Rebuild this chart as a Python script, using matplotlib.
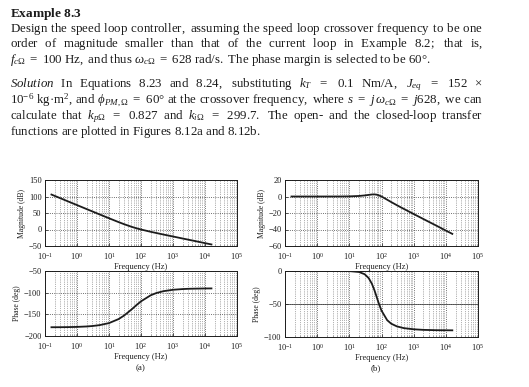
import numpy as np
import matplotlib.pyplot as plt
from matplotlib.ticker import LogLocator, NullFormatter

plt.rcParams['font.family'] = ['Liberation Serif', 'DejaVu Serif']
plt.rcParams['mathtext.fontset'] = 'custom'
plt.rcParams['mathtext.rm'] = 'Liberation Serif'
plt.rcParams['mathtext.it'] = 'Liberation Serif:italic'
plt.rcParams['mathtext.bf'] = 'Liberation Serif:bold'

INK = '#1c1c1c'

# open-loop transfer function (a)
freq_ol = [0.159, 0.3, 0.5, 1, 2, 3, 5, 10, 20, 30, 50, 70, 100, 200, 300,
           500, 1000, 2000, 3000, 5000, 10000, 15900]
mag_ol = [105.9, 94.9, 86.0, 74.0, 61.9, 54.9, 46.0, 34.1, 22.4, 15.9, 8.4,
          4.1, 0.0, -6.9, -10.6, -15.2, -21.2, -27.3, -30.8, -35.2, -41.3, -45.3]
phase_ol = [-179.8, -179.7, -179.5, -179.0, -178.0, -177.0, -175.0, -170.2,
            -160.9, -152.5, -139.1, -129.5, -120.0, -106.1, -100.9, -96.6,
            -93.3, -91.7, -91.1, -90.7, -90.3, -90.2]

# closed-loop transfer function (b)
freq_cl = [0.159, 0.5, 1, 2, 5, 10, 20, 30, 40, 50, 60, 70, 80, 100, 150,
           200, 300, 500, 1000, 2000, 3000, 5000, 10000, 15900]
mag_cl = [0.0, 0.0, 0.0, 0.0, 0.04, 0.17, 0.64, 1.30, 1.96, 2.43, 2.54, 2.25,
          1.64, 0.0, -3.9, -6.72, -10.53, -15.13, -21.22, -27.26, -30.8,
          -35.2, -41.3, -45.3]
phase_cl = [0.0, 0.0, 0.0, 0.0, -0.03, -0.19, -1.5, -4.9, -10.8, -19.1, -28.8,
            -38.6, -47.3, -60.0, -74.5, -79.8, -83.9, -86.6, -88.3, -89.2,
            -89.4, -89.7, -89.8, -89.9]

W, H = 529, 387
fig = plt.figure(figsize=(W / 100, H / 100), dpi=100)
renderer = fig.canvas.get_renderer()

LEFT, RIGHT = 10, 483
SIZE = 9.3
CMD = {'normal': r'\mathrm', 'italic': r'\mathit', 'bold': r'\mathbf'}


def frag(tok, style):
    # one word -> mathtext fragment; text between $..$ stays math
    if isinstance(tok, tuple):
        tok, style = tok
    out = ''
    for i, p in enumerate(tok.split('$')):
        if not p:
            continue
        if i % 2 == 0:
            out += CMD[style] + '{' + p.replace('-', '\u2010') + '}'
        else:
            out += p
    return out


def width(fr, size):
    t = fig.text(0, 0, '$' + fr + '$', fontsize=size)
    w = t.get_window_extent(renderer).width
    t.remove()
    return w


def put_line(y_px, tokens, justify, size=SIZE, style='normal'):
    # whole line is one text, words spread with \hspace for justification
    frags = [frag(tok, style) for tok in tokens]
    unit = (width(r'\mathrm{x}\hspace{10}\mathrm{x}', size)
            - width(r'\mathrm{xx}', size)) / 10
    gap = size * 100 / 72 * 0.25
    join = lambda g: '$' + (r'\hspace{%.3f}' % (g / unit)).join(frags) + '$'
    t = fig.text(LEFT / W, 1 - y_px / H, join(gap), fontsize=size,
                 color=INK, va='baseline', ha='left')
    if justify and len(frags) > 1:
        for _ in range(3):
            w = t.get_window_extent(renderer).width
            gap = max(gap + (RIGHT - LEFT - w) / (len(frags) - 1), 1.0)
            t.set_text(join(gap))


put_line(16.5, ['Example', '8.3'], False, size=9.6, style='bold')
put_line(31.7, 'Design the speed loop controller, assuming the speed loop '
         'crossover frequency to be one'.split(), True)
put_line(47.5, 'order of magnitude smaller than that of the current loop in '
         'Example 8.2; that is,'.split(), True)
put_line(63.3, r'$f_{c\Omega}$ = 100 Hz, and thus $\omega_{c\Omega}$ = 628 '
         r'rad/s. The phase margin is selected to be 60°.'.split(), False)
put_line(87.0, [('Solution', 'italic')] + r'In Equations 8.23 and 8.24, '
         r'substituting $k_T$ = 0.1 Nm/A, $J_{eq}$ = 152 ×'.split(), True)
put_line(103.0, r'10$^{-6}$ kg·m$^2$, and $\phi_{PM,\Omega}$ = 60° at the '
         r'crossover frequency, where $s$ = $j\,\omega_{c\Omega}$ = $j$628, '
         r'we can'.split(), True)
put_line(119.0, r'calculate that $k_{p\Omega}$ = 0.827 and $k_{i\Omega}$ = '
         r'299.7. The open- and the closed-loop transfer'.split(), True)
put_line(135.5, 'functions are plotted in Figures 8.12a and 8.12b.'.split(),
         False)


def px_axes(left, top, right, bottom):
    return fig.add_axes([left / W, 1 - bottom / H, (right - left) / W,
                         (bottom - top) / H])


def style_bode(ax, yticks):
    ax.set_xscale('log')
    ax.set_xlim(0.1, 1e5)
    ax.set_ylim(yticks[-1], yticks[0])
    ax.set_yticks(yticks)
    ax.xaxis.set_major_locator(LogLocator(base=10, numticks=10))
    ax.xaxis.set_minor_locator(LogLocator(base=10, subs=np.arange(2, 10),
                                          numticks=100))
    ax.xaxis.set_minor_formatter(NullFormatter())
    ax.grid(True, which='major', ls=':', color='0.25', lw=0.6)
    ax.grid(True, which='minor', axis='x', ls=':', color='0.4', lw=0.5)
    ax.tick_params(which='both', direction='in', labelsize=6, colors=INK,
                   length=2, width=0.5)
    ax.tick_params(axis='x', pad=3.5)
    ax.tick_params(axis='y', pad=2.5)
    ax.tick_params(which='minor', length=1)
    for s in ax.spines.values():
        s.set_linewidth(0.7)
        s.set_color(INK)
    ax.set_xlabel('Frequency (Hz)', fontsize=6, color=INK, labelpad=1)


ax1 = px_axes(45, 180, 237, 246)
ax1.plot(freq_ol, mag_ol, color=INK, lw=1.3)
style_bode(ax1, [150, 100, 50, 0, -50])
ax1.set_ylabel('Magnitude (dB)', fontsize=5.5, color=INK, labelpad=2)

ax2 = px_axes(45, 271, 237, 336)
ax2.plot(freq_ol, phase_ol, color=INK, lw=1.3)
style_bode(ax2, [-50, -100, -150, -200])
ax2.set_ylabel('Phase (deg)', fontsize=5.5, color=INK, labelpad=2)

ax3 = px_axes(285, 180, 478, 246)
ax3.plot(freq_cl, mag_cl, color=INK, lw=1.3)
style_bode(ax3, [20, 0, -20, -40, -60])
ax3.set_ylabel('Magnitude (dB)', fontsize=5.5, color=INK, labelpad=2)

ax4 = px_axes(285, 271, 478, 337)
ax4.plot(freq_cl, phase_cl, color=INK, lw=1.3)
style_bode(ax4, [0, -50, -100])
ax4.axhline(-50, color='0.3', lw=0.6, zorder=1)
ax4.set_ylabel('Phase (deg)', fontsize=5.5, color=INK, labelpad=2)

fig.text(141 / W, 1 - 368 / H, '(a)', fontsize=6.5, color=INK, ha='center',
         va='center')
fig.text(376 / W, 1 - 368 / H, '(b)', fontsize=6.5, color=INK, ha='center',
         va='center')

fig.savefig('out.png', dpi=100)
